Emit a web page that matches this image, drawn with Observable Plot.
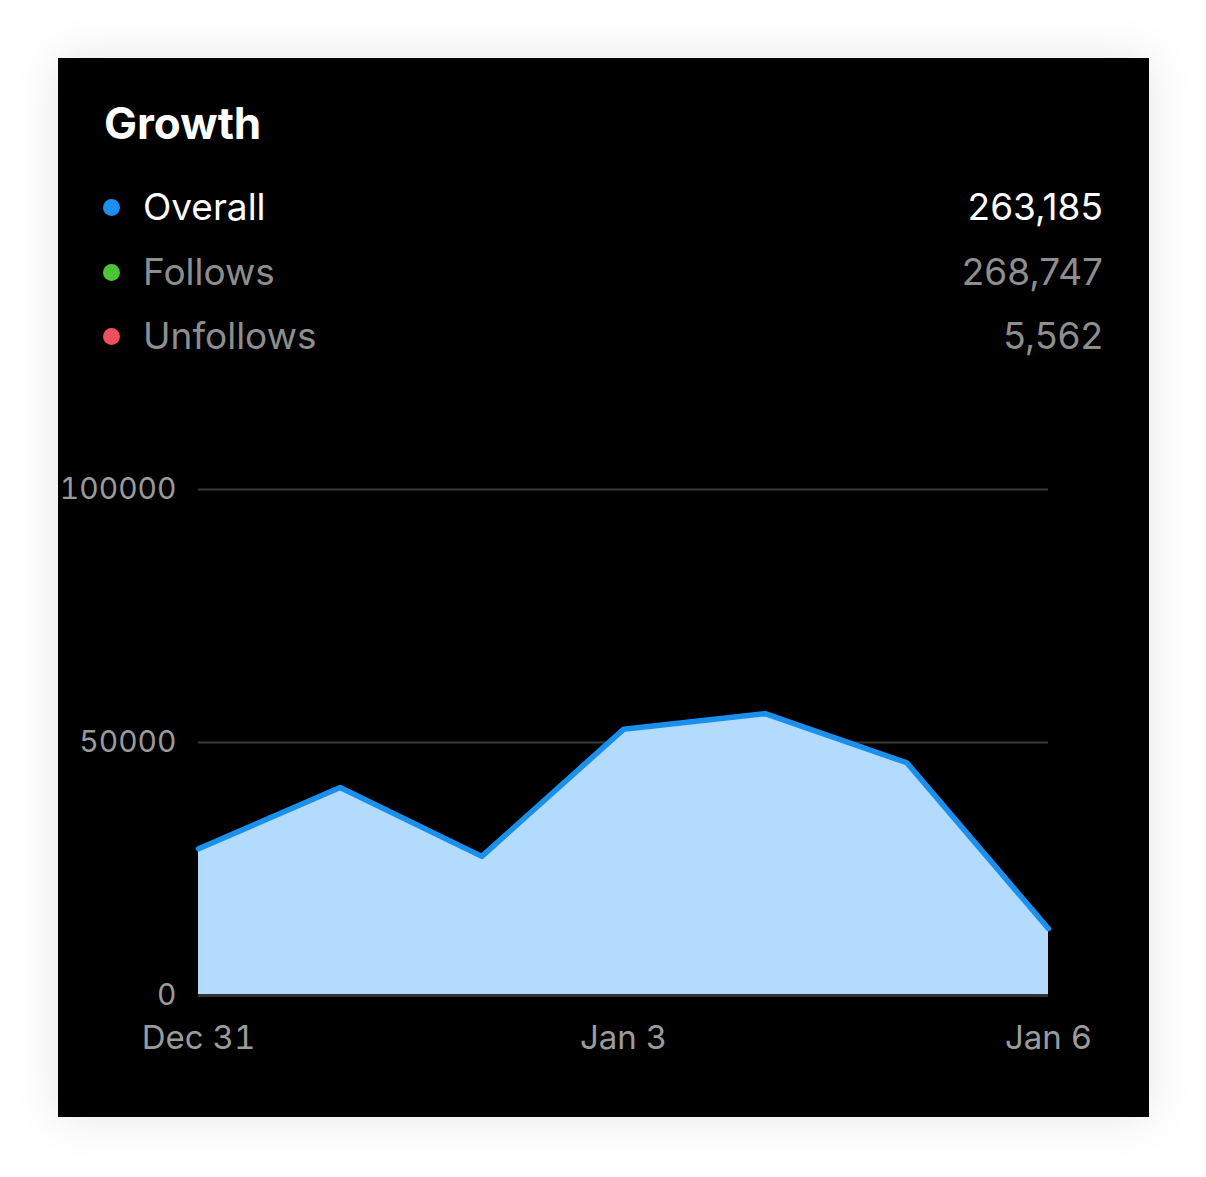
<!DOCTYPE html>
<html>
<head>
<meta charset="utf-8">
<script src="https://cdn.jsdelivr.net/npm/d3@7"></script>
<script src="https://cdn.jsdelivr.net/npm/@observablehq/plot@0.6"></script>
<style>
  html, body { margin: 0; padding: 0; background: #ffffff; }
  body { width: 1206px; height: 1177px; position: relative; overflow: hidden; font-family: Inter, "Noto Sans", sans-serif; }
  #card { position: absolute; left: 58px; top: 58px; width: 1091px; height: 1059px; background: #000; overflow: hidden;
          box-shadow: 0 0 45px rgba(0,0,0,0.10); }
  #title { position: absolute; left: 46px; top: 38px; color: #fff; font-weight: 700; font-size: 44px; line-height: 54px; }
  .row { position: absolute; left: 0; width: 1091px; height: 50px; font-size: 37px; line-height: 50px; }
  .dot { position: absolute; left: 45px; top: 17px; width: 17px; height: 17px; border-radius: 50%; }
  .lab { position: absolute; left: 85px; top: 0; }
  .val { position: absolute; right: 46px; top: 0; }
  #chart { position: absolute; left: 0; top: 382px; }
</style>
</head>
<body>
<div id="card">
  <div id="title">Growth</div>
  <div id="legend"></div>
  <div id="chart"></div>
</div>
<script>
const dates = ["2023-12-31", "2024-01-01", "2024-01-02", "2024-01-03", "2024-01-04", "2024-01-05", "2024-01-06"];
const overall = [29000, 41100, 27500, 52600, 55700, 46000, 13200];
const xTicks = ["2023-12-31", "2024-01-03", "2024-01-06"];
const yTicks = [0, 50000, 100000];

const legendLabels = ["Overall", "Follows", "Unfollows"];
const legendValues = ["263,185", "268,747", "5,562"];
const legendColors = ["#1e8ff0", "#4cc437", "#ee4f5c"];
const legendText = ["#ffffff", "#8e8e8e", "#8e8e8e"];

const legend = document.getElementById("legend");
legendLabels.forEach((l, i) => {
  const row = document.createElement("div");
  row.className = "row";
  row.style.top = (124 + i * 64.5) + "px";
  row.innerHTML = `<span class="dot" style="background:${legendColors[i]}"></span>` +
    `<span class="lab" style="color:${legendText[i]}">${l}</span>` +
    `<span class="val" style="color:${legendText[i]}">${legendValues[i]}</span>`;
  legend.appendChild(row);
});

const parse = d => new Date(d + "T00:00:00Z");
const data = dates.map((d, i) => ({date: parse(d), value: overall[i]}));

const chart = Plot.plot({
  width: 1091,
  height: 677,
  marginLeft: 140,
  marginRight: 101,
  marginTop: 49,
  marginBottom: 122,
  style: {background: "transparent", fontFamily: "Inter, 'Noto Sans', sans-serif", fontSize: "33px", color: "#9b9b9b", overflow: "visible"},
  x: {type: "utc", domain: [parse(dates[0]), parse(dates[dates.length - 1])], label: null},
  y: {domain: [0, 100000], label: null},
  marks: [
    Plot.ruleY([50000, 100000], {stroke: "#3a3a3a", strokeWidth: 2}),
    Plot.areaY(data, {x: "date", y: "value", fill: "#b3dbfd", fillOpacity: 1}),
    Plot.ruleY([0], {stroke: "#333333", strokeWidth: 3}),
    Plot.lineY(data, {x: "date", y: "value", stroke: "#1a8fec", strokeWidth: 5.5, strokeLinejoin: "round"}),
    Plot.axisY({ticks: yTicks, tickFormat: d => String(d), tickSize: 0, tickPadding: 22, fontSize: 30, fill: "#9b9b9b"}),
    Plot.axisX({ticks: xTicks.map(parse), tickFormat: d3.utcFormat("%b %-d"), tickSize: 0, tickPadding: 30, fontSize: 33, fill: "#9b9b9b"})
  ]
});
document.getElementById("chart").appendChild(chart);
</script>
</body>
</html>
